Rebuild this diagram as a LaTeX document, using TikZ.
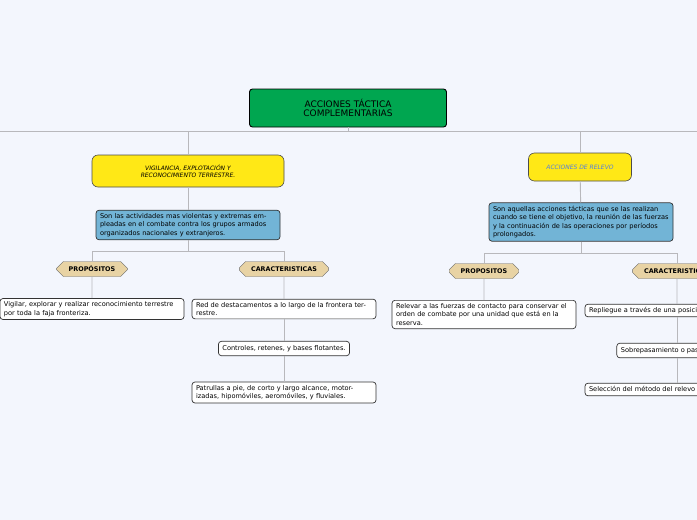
\documentclass[tikz,border=0pt]{standalone}
\usepackage{fontspec}
\setmainfont{DejaVu Sans}
\usetikzlibrary{shapes.misc,shapes.geometric}
\definecolor{bg}{HTML}{F3F6FD}
\definecolor{grn}{HTML}{00A650}
\definecolor{ylw}{HTML}{FFE816}
\definecolor{blu}{HTML}{72B4D6}
\definecolor{tan}{HTML}{E8D3A4}
\definecolor{ln}{HTML}{B8B8BC}
\tikzset{
 every node/.style={font=\fontsize{6.6}{8.6}\selectfont, inner sep=0pt},
 conn/.style={draw=ln, line width=0.9pt},
 root/.style={draw=black, fill=grn, rounded corners=3pt, line width=0.9pt, minimum width=197pt, minimum height=38pt, align=center, font=\fontsize{9}{9}\selectfont},
 topic/.style={draw=black!70, fill=ylw, rounded corners=6pt, line width=0.6pt, minimum height=32pt, align=center, font=\fontsize{6}{7}\selectfont\itshape},
 desc/.style={draw=black!80, fill=blu, rounded corners=3pt, line width=0.7pt, align=left, inner xsep=4pt, inner ysep=3pt, anchor=center},
 hexa/.style={draw=black!60, fill=tan, chamfered rectangle, chamfered rectangle xsep=4pt, minimum height=15pt, font=\fontsize{6.4}{9}\selectfont\bfseries, inner xsep=9pt},
 leaf/.style={draw=black!80, fill=white, rounded corners=3pt, line width=0.7pt, align=left, inner xsep=4pt, inner ysep=3pt, text width=176pt},
 small/.style={draw=black!80, fill=white, rounded corners=3pt, line width=0.7pt, inner xsep=4pt, inner ysep=4pt},
}
\begin{document}
\begin{tikzpicture}[x=1pt,y=-1pt]
\fill[bg] (0,0) rectangle (697,520);
\useasboundingbox (0,0) rectangle (697,520);
\begin{scope}
\clip (0,0) rectangle (697,520);
\coordinate (hl) at (0,131); \coordinate (hr) at (697,131);
\draw[conn] (hl) -- (hr);
\coordinate (t1) at (188,131); \coordinate (t2) at (580,131);
\coordinate (b1l) at (92,251); \coordinate (b1r) at (284,251); \coordinate (b1m) at (188,251);
\coordinate (b2l) at (484,253); \coordinate (b2r) at (677,253); \coordinate (b2m) at (581,253);
\draw[conn] (b1l) -- (b1r); \draw[conn] (b2l) -- (b2r);

\node[root] (root) at (348,108) {ACCIONES TÁCTICA\\COMPLEMENTARIAS};
\draw[conn] (root.south) -- (348,131);

\node[topic, minimum width=192pt] (y1) at (188,171) {VIGILANCIA, EXPLOTACIÓN Y\\RECONOCIMIENTO TERRESTRE.};
\node[desc, text width=176pt] (d1) at (188,225) {\raggedright Son las actividades mas violentas y extremas empleadas en el combate contra los grupos armados organizados nacionales y extranjeros.};
\node[hexa] (p1) at (92,269) {PROPÓSITOS};
\node[hexa] (c1) at (284,269) {CARACTERISTICAS};
\node[leaf] (l1) at (92,309) {\raggedright Vigilar, explorar y realizar reconocimiento terrestre por toda la faja fronteriza.};
\node[leaf] (ca) at (284,309) {\raggedright Red de destacamentos a lo largo de la frontera terrestre.};
\node[small] (cb) at (284,348.5) {Controles, retenes, y bases flotantes.};
\node[leaf] (cc) at (284,392.5) {\raggedright Patrullas a pie, de corto y largo alcance, motorizadas, hipomóviles, aeromóviles, y fluviales.};

\node[topic, minimum width=103pt, minimum height=28pt, text=blu!70!blue] (y2) at (580,167) {ACCIONES DE RELEVO};
\node[desc, text width=176pt] (d2) at (581,222) {\raggedright Son aquellas acciones tácticas que se las realizan cuando se tiene el objetivo, la reunión de las fuerzas y la continuación de las operaciones por períodos prolongados.};
\node[hexa] (p2) at (484,271) {PROPOSITOS};
\node[hexa] (c2) at (677,271) {CARACTERISTICAS};
\node[leaf] (l2) at (484,314.5) {\raggedright Relevar a las fuerzas de contacto para conservar el orden de combate por una unidad que está en la reserva.};
\node[leaf] (ra) at (677,310.5) {\raggedright Repliegue a través de una posición en retaguardia.};
\node[small] (rb) at (677,350.5) {Sobrepasamiento o paso de línea.};
\node[leaf] (rc) at (677,389.5) {\raggedright Selección del método del relevo en el ataque.};

\draw[conn] (t1) -- (y1); \draw[conn] (y1) -- (d1); \draw[conn] (d1) -- (b1m);
\draw[conn] (b1l) -- (p1); \draw[conn] (b1r) -- (c1);
\draw[conn] (p1) -- (l1); \draw[conn] (c1) -- (ca); \draw[conn] (ca) -- (cb); \draw[conn] (cb) -- (cc);
\draw[conn] (t2) -- (y2); \draw[conn] (y2) -- (d2); \draw[conn] (d2) -- (b2m);
\draw[conn] (b2l) -- (p2); \draw[conn] (b2r) -- (c2);
\draw[conn] (p2) -- (l2); \draw[conn] (c2) -- (ra); \draw[conn] (ra) -- (rb); \draw[conn] (rb) -- (rc);
\end{scope}
\end{tikzpicture}
\end{document}
